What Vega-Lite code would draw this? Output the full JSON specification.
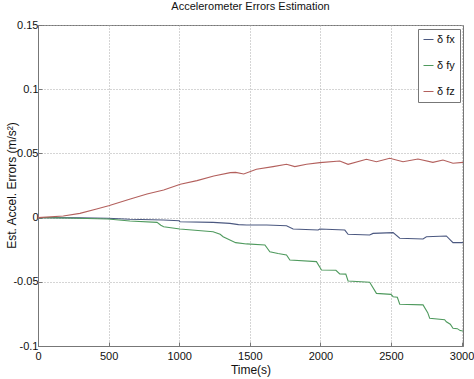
{
  "$schema": "https://vega.github.io/schema/vega-lite/v6.json",
  "width": 425,
  "height": 321,
  "autosize": {"type": "none"},
  "padding": {"left": 38, "top": 25, "right": 11, "bottom": 33},
  "background": "white",
  "title": {"text": "Accelerometer Errors Estimation", "font": "Liberation Sans Narrow, Liberation Sans", "fontSize": 11, "fontWeight": "normal", "color": "#111", "offset": 7},
  "config": {
    "view": {"stroke": "#777", "strokeWidth": 1},
    "font": "Liberation Sans Narrow, Liberation Sans",
    "axis": {"labelFont": "Liberation Sans Narrow, Liberation Sans", "titleFont": "Liberation Sans Narrow, Liberation Sans", "labelFontSize": 11, "titleFontSize": 12, "titleFontWeight": "normal", "labelColor": "#111", "titleColor": "#111", "domainColor": "#777", "tickColor": "#777", "gridColor": "#aaa", "gridDash": [1, 2], "gridOpacity": 1}
  },
  "data": {"values": [
    {"t": 0, "s": "δ fx", "v": 0}, {"t": 300, "s": "δ fx", "v": -0.0002}, {"t": 495, "s": "δ fx", "v": -0.0005}, {"t": 651, "s": "δ fx", "v": -0.0013}, {"t": 887, "s": "δ fx", "v": -0.0019}, {"t": 1000, "s": "δ fx", "v": -0.0025}, {"t": 1005, "s": "δ fx", "v": -0.0032}, {"t": 1240, "s": "δ fx", "v": -0.0037}, {"t": 1359, "s": "δ fx", "v": -0.0045}, {"t": 1420, "s": "δ fx", "v": -0.0055}, {"t": 1477, "s": "δ fx", "v": -0.0058}, {"t": 1619, "s": "δ fx", "v": -0.0058}, {"t": 1760, "s": "δ fx", "v": -0.0063}, {"t": 1807, "s": "δ fx", "v": -0.0089}, {"t": 1984, "s": "δ fx", "v": -0.0097}, {"t": 1996, "s": "δ fx", "v": -0.0089}, {"t": 2173, "s": "δ fx", "v": -0.0097}, {"t": 2196, "s": "δ fx", "v": -0.013}, {"t": 2349, "s": "δ fx", "v": -0.0136}, {"t": 2373, "s": "δ fx", "v": -0.0123}, {"t": 2515, "s": "δ fx", "v": -0.0117}, {"t": 2562, "s": "δ fx", "v": -0.0161}, {"t": 2727, "s": "δ fx", "v": -0.0167}, {"t": 2751, "s": "δ fx", "v": -0.0149}, {"t": 2892, "s": "δ fx", "v": -0.0143}, {"t": 2939, "s": "δ fx", "v": -0.0195}, {"t": 3010, "s": "δ fx", "v": -0.0195},
    {"t": 0, "s": "δ fy", "v": 0}, {"t": 200, "s": "δ fy", "v": -0.0003}, {"t": 495, "s": "δ fy", "v": -0.0011}, {"t": 651, "s": "δ fy", "v": -0.0026}, {"t": 843, "s": "δ fy", "v": -0.0037}, {"t": 870, "s": "δ fy", "v": -0.006}, {"t": 890, "s": "δ fy", "v": -0.0071}, {"t": 1005, "s": "δ fy", "v": -0.0089}, {"t": 1240, "s": "δ fy", "v": -0.011}, {"t": 1290, "s": "δ fy", "v": -0.013}, {"t": 1311, "s": "δ fy", "v": -0.0149}, {"t": 1400, "s": "δ fy", "v": -0.0195}, {"t": 1477, "s": "δ fy", "v": -0.0205}, {"t": 1607, "s": "δ fy", "v": -0.0213}, {"t": 1642, "s": "δ fy", "v": -0.0266}, {"t": 1700, "s": "δ fy", "v": -0.028}, {"t": 1760, "s": "δ fy", "v": -0.0291}, {"t": 1784, "s": "δ fy", "v": -0.033}, {"t": 1972, "s": "δ fy", "v": -0.0343}, {"t": 2008, "s": "δ fy", "v": -0.0408}, {"t": 2110, "s": "δ fy", "v": -0.041}, {"t": 2137, "s": "δ fy", "v": -0.0439}, {"t": 2180, "s": "δ fy", "v": -0.044}, {"t": 2196, "s": "δ fy", "v": -0.0494}, {"t": 2349, "s": "δ fy", "v": -0.0504}, {"t": 2397, "s": "δ fy", "v": -0.059}, {"t": 2500, "s": "δ fy", "v": -0.0598}, {"t": 2515, "s": "δ fy", "v": -0.0616}, {"t": 2545, "s": "δ fy", "v": -0.062}, {"t": 2562, "s": "δ fy", "v": -0.0675}, {"t": 2727, "s": "δ fy", "v": -0.068}, {"t": 2760, "s": "δ fy", "v": -0.074}, {"t": 2774, "s": "δ fy", "v": -0.0784}, {"t": 2880, "s": "δ fy", "v": -0.0795}, {"t": 2892, "s": "δ fy", "v": -0.0811}, {"t": 2920, "s": "δ fy", "v": -0.083}, {"t": 2939, "s": "δ fy", "v": -0.0862}, {"t": 2970, "s": "δ fy", "v": -0.0865}, {"t": 2990, "s": "δ fy", "v": -0.088}, {"t": 3010, "s": "δ fy", "v": -0.0883},
    {"t": 0, "s": "δ fz", "v": 0}, {"t": 179, "s": "δ fz", "v": 0.0012}, {"t": 297, "s": "δ fz", "v": 0.0033}, {"t": 415, "s": "δ fz", "v": 0.0067}, {"t": 500, "s": "δ fz", "v": 0.0093}, {"t": 654, "s": "δ fz", "v": 0.0145}, {"t": 772, "s": "δ fz", "v": 0.0184}, {"t": 890, "s": "δ fz", "v": 0.0215}, {"t": 1008, "s": "δ fz", "v": 0.026}, {"t": 1126, "s": "δ fz", "v": 0.0288}, {"t": 1245, "s": "δ fz", "v": 0.0324}, {"t": 1362, "s": "δ fz", "v": 0.035}, {"t": 1400, "s": "δ fz", "v": 0.0352}, {"t": 1457, "s": "δ fz", "v": 0.034}, {"t": 1547, "s": "δ fz", "v": 0.0376}, {"t": 1665, "s": "δ fz", "v": 0.0397}, {"t": 1760, "s": "δ fz", "v": 0.0415}, {"t": 1819, "s": "δ fz", "v": 0.0397}, {"t": 1902, "s": "δ fz", "v": 0.0415}, {"t": 1996, "s": "δ fz", "v": 0.0428}, {"t": 2137, "s": "δ fz", "v": 0.0441}, {"t": 2196, "s": "δ fz", "v": 0.0415}, {"t": 2326, "s": "δ fz", "v": 0.0454}, {"t": 2397, "s": "δ fz", "v": 0.0435}, {"t": 2491, "s": "δ fz", "v": 0.0462}, {"t": 2585, "s": "δ fz", "v": 0.0435}, {"t": 2691, "s": "δ fz", "v": 0.0456}, {"t": 2797, "s": "δ fz", "v": 0.043}, {"t": 2868, "s": "δ fz", "v": 0.0449}, {"t": 2939, "s": "δ fz", "v": 0.0423}, {"t": 3010, "s": "δ fz", "v": 0.043}
  ]},
  "mark": {"type": "line", "strokeWidth": 1.1, "clip": true},
  "encoding": {
    "x": {"field": "t", "type": "quantitative", "scale": {"domain": [0, 3010], "nice": false, "zero": false}, "axis": {"values": [0, 500, 1000, 1500, 2000, 2500, 3000], "format": "d", "title": "Time(s)", "tickSize": -4, "labelPadding": 8, "titlePadding": 3, "labelFlush": false}},
    "y": {"field": "v", "type": "quantitative", "scale": {"domain": [-0.1, 0.15], "nice": false}, "axis": {"values": [-0.1, -0.05, 0, 0.05, 0.1, 0.15], "labelExpr": "replace(format(datum.value, '~g'), '−', '-')", "title": "Est. Accel. Errors (m/s²)", "tickSize": -4, "labelPadding": 4, "titleX": -27, "titleY": 160, "titleAngle": -90, "titleAlign": "center", "titleBaseline": "middle"}},
    "color": {"field": "s", "type": "nominal", "scale": {"domain": ["δ fx", "δ fy", "δ fz"], "range": ["#4b5880", "#4f9a5e", "#b3605d"]}, "legend": {"title": null, "orient": "none", "legendX": 380, "legendY": 4, "symbolType": "stroke", "symbolSize": 100, "symbolStrokeWidth": 1, "labelFontSize": 11, "labelOffset": 3, "labelFont": "Liberation Sans Narrow, Liberation Sans", "rowPadding": 14, "padding": 5, "strokeColor": "#777", "fillColor": "white", "labelColor": "#111"}}
  }
}
